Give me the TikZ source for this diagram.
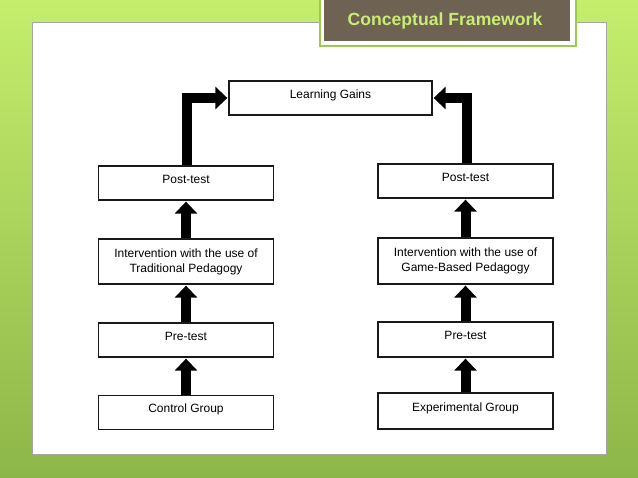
\documentclass[tikz,border=0pt]{standalone}
\usepackage{fontspec}
\setmainfont{Liberation Sans}
\usepackage{xcolor}
\usetikzlibrary{arrows.meta,positioning}
\definecolor{slidetop}{HTML}{C4EE6C}
\definecolor{slidebot}{HTML}{8DB649}
\definecolor{titlebg}{HTML}{6E6252}
\definecolor{titlefg}{HTML}{C9EC74}
\definecolor{titleline}{HTML}{9CCB4C}
\tikzset{
  stagebox/.style={draw=black!90,line width=1.3pt,fill=white,minimum width=175pt,minimum height=34pt,
    text height=7pt,text depth=6pt,inner sep=0pt},
  stagetwo/.style={draw=black!90,line width=1.3pt,fill=white,minimum width=175pt,minimum height=45pt,
    align=center,inner sep=0pt},
  blockarrow/.style={line width=10pt,line join=miter,-{Triangle[width=22pt,length=12pt]},shorten >=1pt}
}

\begin{document}
\begin{tikzpicture}[x=1pt,y=-1pt,font=\fontsize{12pt}{15pt}\selectfont]
\useasboundingbox (0,0) rectangle (638,478);
\shade[top color=slidetop,bottom color=slidebot] (0,0) rectangle (638,478);
% white panel
\draw[fill=white,draw=black!35,line width=0.8pt] (32,22) rectangle (606,454);
% title tab
\draw[fill=white,draw=titleline,line width=1.2pt] (320,-2) rectangle (576,46);
\fill[titlebg] (324,-2) rectangle (570,41);
\node[font=\fontsize{17.6pt}{20pt}\selectfont\bfseries,text=titlefg] (title) at (445,20.5) {Conceptual Framework};
% left column
\node[stagebox] (lctrl) at (186,412.5) {Control Group};
\node[stagebox,above=37.2pt of lctrl] (lpre) {Pre-test};
\node[stagetwo,above=37.7pt of lpre] (lint) {Intervention with the use of\\Traditional Pedagogy};
\node[stagebox,above=37.7pt of lint] (lpost) {Post-test};
% right column
\node[stagebox,minimum height=36pt] (rexp) at (465.5,411) {Experimental Group};
\node[stagebox,minimum height=35pt,above=34.7pt of rexp] (rpre) {Pre-test};
\node[stagetwo,minimum height=46pt,above=36.7pt of rpre] (rint) {Intervention with the use of\\Game-Based Pedagogy};
\node[stagebox,above=38.7pt of rint] (rpost) {Post-test};
% outcome
\node[stagebox,minimum width=203pt] (gains) at (330.5,98) {Learning Gains};
% arrows
\draw[blockarrow] (lctrl) -- (lpre);
\draw[blockarrow] (lpre) -- (lint);
\draw[blockarrow] (lint) -- (lpost);
\draw[blockarrow] (rexp) -- (rpre);
\draw[blockarrow] (rpre) -- (rint);
\draw[blockarrow] (rint) -- (rpost);
\draw[blockarrow] ([xshift=1pt]lpost.north) |- (gains.west);
\draw[blockarrow] ([xshift=1.5pt]rpost.north) |- (gains.east);
\end{tikzpicture}
\end{document}
